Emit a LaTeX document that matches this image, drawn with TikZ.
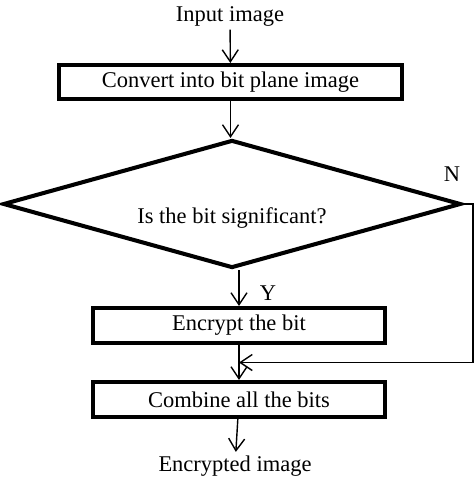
\documentclass[tikz,border=0pt]{standalone}
\usepackage{fontspec}
\setmainfont{Liberation Serif}
\usepackage{tikz}
\usetikzlibrary{arrows.meta,positioning,calc,shapes.geometric}
\tikzset{
  stepbox/.style={
    draw=black, line width=2.3pt, fill=white, align=center,
    minimum width=5.84cm, minimum height=0.7cm, inner sep=0pt
  },
  decide/.style={
    diamond, aspect=3.58, draw=black, line width=2.3pt, align=center,
    minimum width=9.16cm, minimum height=2.56cm, inner sep=0pt
  },
  term/.style={align=center, inner sep=2pt},
  arr/.style={-{Straight Barb[length=2.4mm,width=3.2mm]},line width=.8pt,draw=black},
  lbl/.style={inner sep=0pt}
}

\begin{document}
\begin{tikzpicture}[x=0.02cm,y=-0.02cm,font=\fontsize{12.8}{15}\selectfont]
  \useasboundingbox (0,0) rectangle (474,480);
  \node[term] (in) at (230,16) {Input image};
  \node[stepbox,minimum width=6.86cm,minimum height=0.68cm] (conv) at (230.5,82) {Convert into bit plane image};
  \node[decide] (dia) at (232,204) {\raisebox{-11pt}[0pt][0pt]{Is the bit significant?}};
  \node[stepbox] (enc) at (239,325.5) {Encrypt the bit};
  \node[stepbox] (comb) at (239,399.5) {Combine all the bits};
  \node[term] (out) at (235,466) {Encrypted image};
  \coordinate (join) at ($(enc.south)!0.5!(comb.north)$);
  \node[lbl] (y) at (268,293) {Y};
  \node[lbl] (n) at (452,174) {N};
  \draw[arr] (in)--(conv);
  \draw[arr] (conv)--(conv |- dia.north);
  \draw[arr] (enc.north |- dia.south)--(enc);
  \draw[arr] (dia.east)--++(10,0)|-(join);
  \draw[arr] (enc)--(comb);
  \draw[arr] (comb)--(out);
\end{tikzpicture}
\end{document}
